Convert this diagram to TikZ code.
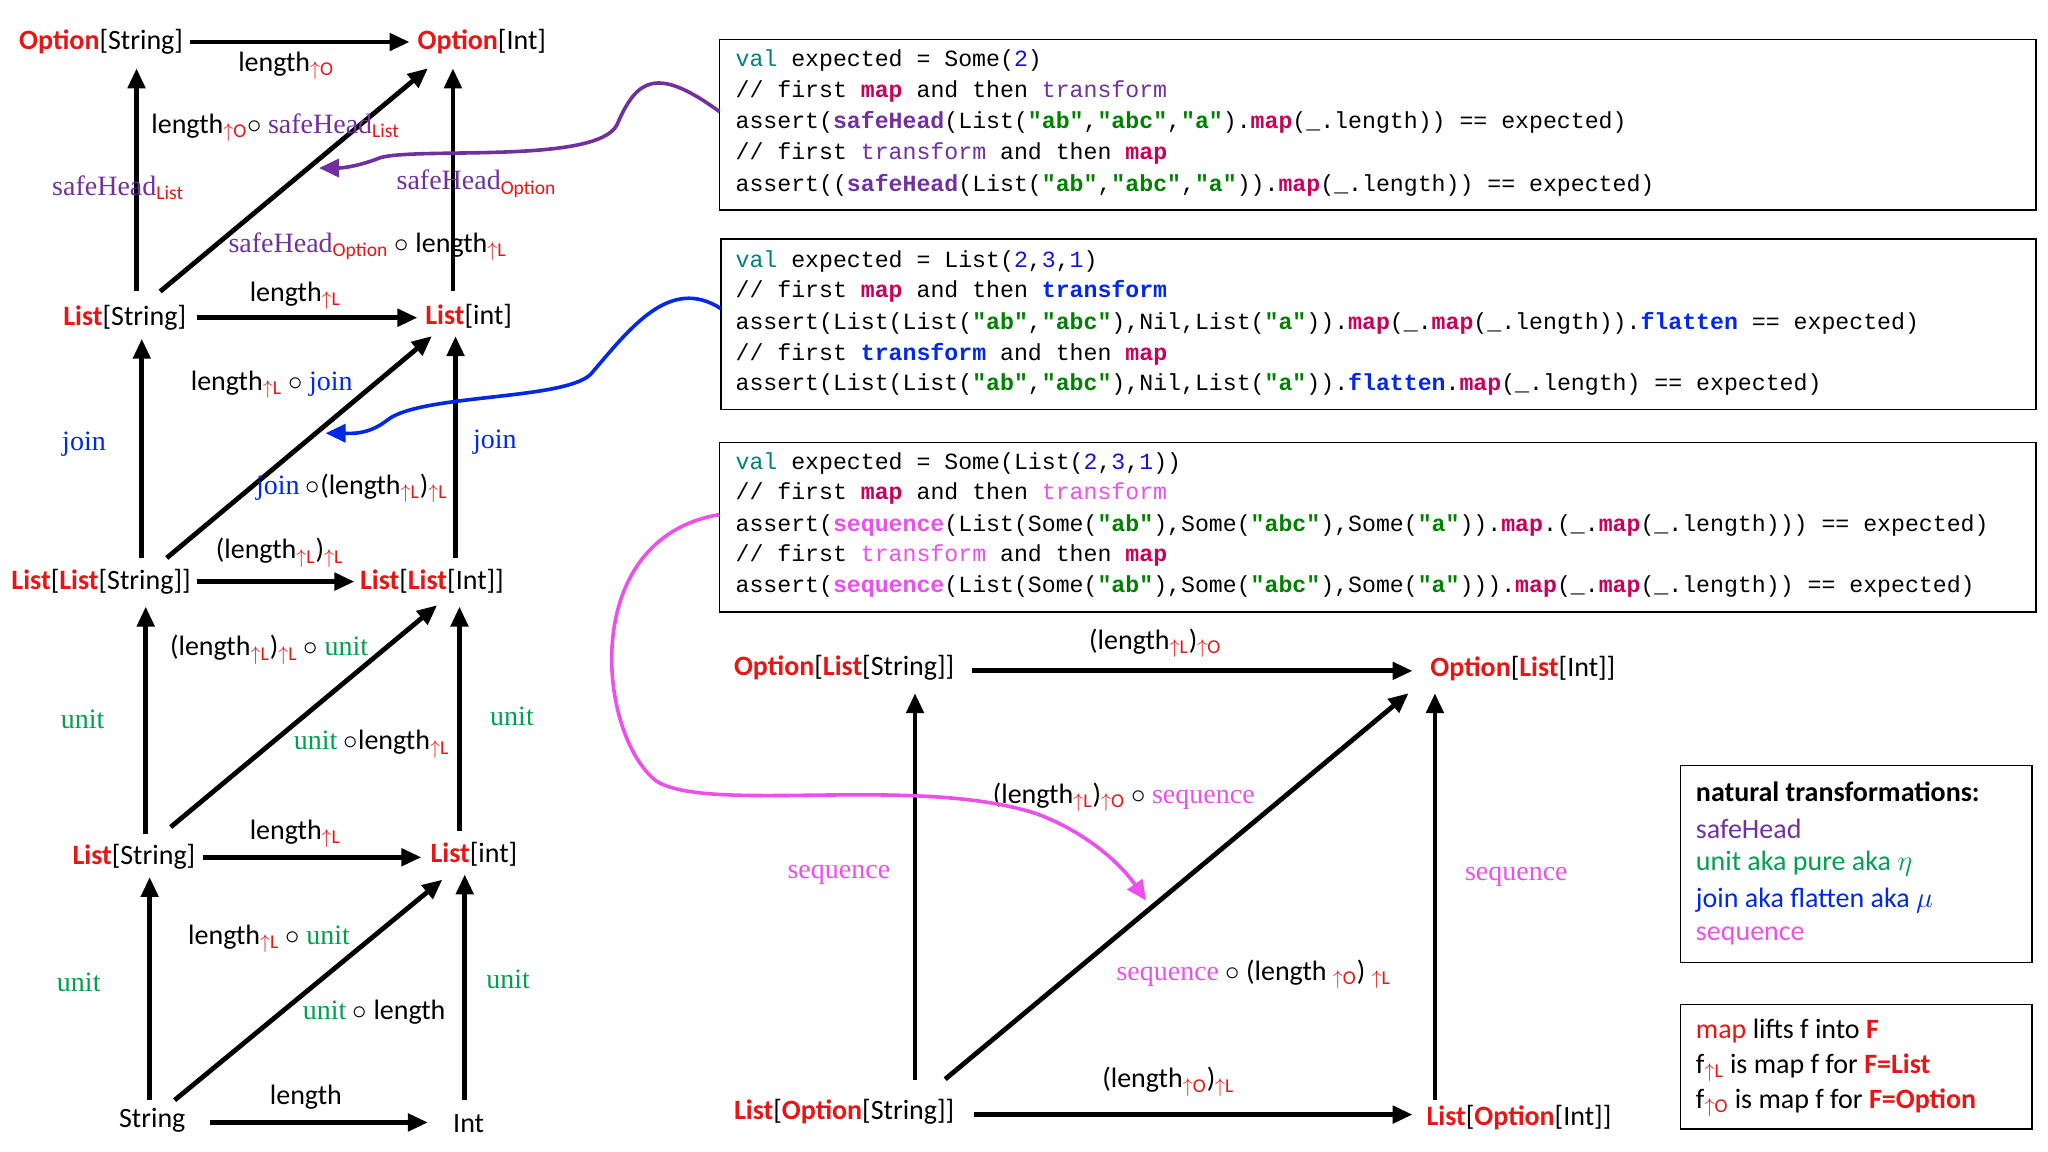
\documentclass[tikz,border=0pt]{standalone}
\usepackage{fontspec}
\setmainfont{Carlito}
\newfontfamily\sr{Liberation Serif}
\newfontfamily\cf{Liberation Mono}
\usetikzlibrary{arrows.meta}
\definecolor{rd}{RGB}{235,20,20}
\definecolor{pu}{RGB}{112,48,160}
\definecolor{bl}{RGB}{0,40,230}
\definecolor{gr}{RGB}{0,160,80}
\definecolor{mg}{RGB}{235,80,235}
\definecolor{kt}{RGB}{0,128,128}
\definecolor{km}{RGB}{200,0,90}
\definecolor{ks}{RGB}{0,128,0}
\definecolor{kn}{RGB}{20,20,220}
\newcommand{\up}[1]{\textsubscript{\color{rd}$\uparrow$#1}}
\newcommand{\sbt}[1]{\textsubscript{\color{rd}#1}}
\newcommand{\R}[1]{\textbf{\color{rd}#1}}
\newcommand{\SH}{{\sr\color{pu}safeHead}}
\newcommand{\JN}{{\sr\color{bl}join}}
\newcommand{\UN}{{\sr\color{gr}unit}}
\newcommand{\SQ}{{\sr\color{mg}sequence}}
\newcommand{\kv}{{\color{kt}val}}
\newcommand{\km}{\textbf{\color{km}map}}
\newcommand{\kt}{{\color{pu}transform}}
\newcommand{\ksh}{\textbf{\color{pu}safeHead}}
\newcommand{\kfl}{\textbf{\color{bl}flatten}}
\newcommand{\ksq}{\textbf{\color{mg}sequence}}
\newcommand{\ktm}{{\color{mg}transform}}
\newcommand{\ks}[1]{\textbf{\color{ks}"#1"}}
\newcommand{\kn}[1]{{\color{kn}#1}}
\begin{document}
\begin{tikzpicture}[x=0.6564pt,y=-0.6564pt,
  lab/.style={font=\fontsize{14}{16}\selectfont,inner sep=1pt},
  code/.style={font=\cf\fontsize{11.6}{14}\selectfont,anchor=west,inner sep=0pt},
  ar/.style={line width=2.4pt,-{Triangle[length=10pt,width=8.5pt]}},
  box/.style={draw,line width=0.8pt},
  crv/.style={line width=1.8pt,-{Triangle[length=10pt,width=9pt]}}]
\useasboundingbox (0,0) rectangle (1560,877.5);
% left nodes
\node[lab] (OS) at (77,32) {\R{Option}[String]};
\node[lab] (OI) at (367,32) {\R{Option}[Int]};
\node[lab] (LS) at (95,242) {\R{List}[String]};
\node[lab] (LI) at (357,241) {\R{List}[int]};
\node[lab] (LLS) at (77,443) {\R{List}[\R{List}[String]]};
\node[lab] (LLI) at (329,443) {\R{List}[\R{List}[Int]]};
\node[lab] (LS2) at (102,653) {\R{List}[String]};
\node[lab] (LI2) at (361,651) {\R{List}[int]};
\node[lab] (S) at (116,853) {String};
\node[lab] (I) at (357,856) {Int};
% arrow ends
\foreach \n/\x/\y in {a1/145/32,a2/312/32,b1/104/222,b2/104/52,c1/122/222,c2/326/52,d1/345/222,d2/345/52,
 e1/150/242,e2/318/242,f1/108/425,f2/108/258,g1/127/425,g2/329/256,h1/347/425,h2/347/256,
 i1/150/443,i2/270/443,j1/111/635,j2/111/462,k1/130/630,k2/333/461,l1/350/633,l2/350/462,
 m1/155/653,m2/321/653,n1/114/838,n2/114/668,o1/133/838,o2/337/670,p1/354/838,p2/354/666,q1/160/855,q2/326/855}
 {\coordinate (\n) at (\x,\y);}
\foreach \s/\t in {a1/a2,b1/b2,c1/c2,d1/d2,e1/e2,f1/f2,g1/g2,h1/h2,i1/i2,j1/j2,k1/k2,l1/l2,m1/m2,n1/n2,o1/o2,p1/p2,q1/q2}
 {\draw[ar] (\s) -- (\t);}
% left labels
\node[lab] (t1) at (218,50) {length\up{O}};
\node[lab] (t2) at (210,97) {length\up{O}$\circ$ \SH\sbt{List}};
\node[lab] (t3) at (90,143) {\SH\sbt{List}};
\node[lab] (t4) at (363,140) {\SH\sbt{Option}};
\node[lab] (t5) at (280,188) {\SH\sbt{Option} $\circ$ length\up{L}};
\node[lab] (t6) at (225,225) {length\up{L}};
\node[lab] (t7) at (64,338) {\JN};
\node[lab] (t8) at (377,337) {\JN};
\node[lab] (t9) at (207,293) {length\up{L} $\circ$ \JN};
\node[lab] (t10) at (268,372) {\JN{} $\circ$(length\up{L})\up{L}};
\node[lab] (t11) at (213,421) {(length\up{L})\up{L}};
\node[lab] (t12) at (63,548) {\UN};
\node[lab] (t13) at (390,546) {\UN};
\node[lab] (t14) at (205,495) {(length\up{L})\up{L} $\circ$ \UN};
\node[lab] (t15) at (283,567) {\UN{} $\circ$length\up{L}};
\node[lab] (t16) at (225,635) {length\up{L}};
\node[lab] (t17) at (60,748) {\UN};
\node[lab] (t18) at (387,746) {\UN};
\node[lab] (t19) at (205,715) {length\up{L} $\circ$ \UN};
\node[lab] (t20) at (285,771) {\UN{} $\circ$ length};
\node[lab] (t21) at (233,836) {length};
% right diagram
\node[lab] (OLS) at (643,509) {\R{Option}[\R{List}[String]]};
\node[lab] (OLI) at (1160,509) {\R{Option}[\R{List}[Int]]};
\node[lab] (LOS) at (643,847) {\R{List}[\R{Option}[String]]};
\node[lab] (LOI) at (1157,851) {\R{List}[\R{Option}[Int]]};
\foreach \n/\x/\y in {r1/740/511,r2/1076/511,s1/697/823,s2/697/528,u1/720/822,u2/1073/528,v1/1093/838,v2/1093/528,w1/742/849,w2/1076/849}
 {\coordinate (\n) at (\x,\y);}
\foreach \s/\t in {r1/r2,s1/s2,u1/u2,v1/v2,w1/w2} {\draw[ar] (\s) -- (\t);}
\node[lab] (y1) at (880,490) {(length\up{L})\up{O}};
\node[lab] (y2) at (890,824) {(length\up{O})\up{L}};
\node[lab] (y3) at (639,666) {\SQ};
\node[lab] (y4) at (1155,668) {\SQ};
\node[lab] (y5) at (856,607) {(length\up{L})\up{O} $\circ$ \SQ};
\node[lab] (y6) at (955,742) {\SQ{} $\circ$ (length \up{O}) \up{L}};
% code boxes
\draw[box] (548,30) rectangle (1551,160);
\draw[box] (549,182) rectangle (1551,312);
\draw[box] (548,337) rectangle (1551,466);
\node[code] (c11) at (560,46) {\kv{} expected = Some(\kn{2})};
\node[code] (c12) at (560,70) {// first \km{} and then \kt};
\node[code] (c13) at (560,93) {assert(\ksh(List(\ks{ab},\ks{abc},\ks{a}).\km(\_.length)) == expected)};
\node[code] (c14) at (560,117) {// first \kt{} and then \km};
\node[code] (c15) at (560,141) {assert((\ksh(List(\ks{ab},\ks{abc},\ks{a})).\km(\_.length)) == expected)};
\node[code] (c21) at (560,199) {\kv{} expected = List(\kn{2},\kn{3},\kn{1})};
\node[code] (c22) at (560,222) {// first \km{} and then \textbf{\color{bl}transform}};
\node[code] (c23) at (560,246) {assert(List(List(\ks{ab},\ks{abc}),Nil,List(\ks{a})).\km(\_.\km(\_.length)).\kfl{} == expected)};
\node[code] (c24) at (560,270) {// first \textbf{\color{bl}transform} and then \km};
\node[code] (c25) at (560,293) {assert(List(List(\ks{ab},\ks{abc}),Nil,List(\ks{a})).\kfl.\km(\_.length) == expected)};
\node[code] (c31) at (560,353) {\kv{} expected = Some(List(\kn{2},\kn{3},\kn{1}))};
\node[code] (c32) at (560,376) {// first \km{} and then \ktm};
\node[code] (c33) at (560,400) {assert(\ksq(List(Some(\ks{ab}),Some(\ks{abc}),Some(\ks{a})).\km.(\_.\km(\_.length))) == expected)};
\node[code] (c34) at (560,423) {// first \ktm{} and then \km};
\node[code] (c35) at (560,447) {assert(\ksq(List(Some(\ks{ab}),Some(\ks{abc}),Some(\ks{a}))).\km(\_.\km(\_.length)) == expected)};
% legends
\draw[box] (1280,583) rectangle (1548,733);
\draw[box] (1280,765) rectangle (1548,860);
\begin{scope}[every node/.style={lab,anchor=west}]
\node (g1) at (1290,603) {\textbf{natural transformations:}};
\node (g2) at (1290,631) {\color{pu}safeHead};
\node (g3) at (1290,658) {\color{gr}unit aka pure aka $\eta$};
\node (g4) at (1290,686) {\color{bl}join aka flatten aka $\mu$};
\node (g5) at (1290,713) {\color{mg}sequence};
\node (h1) at (1290,785) {{\color{rd}map} lifts f into \R{F}};
\node (h2) at (1290,813) {f\up{L} is map f for \R{F=List}};
\node (h3) at (1290,840) {f\up{O} is map f for \R{F=Option}};
\end{scope}
% curves
\coordinate (pA) at (548,85); \coordinate (pB) at (243,128);
\draw[crv,pu] (pA) .. controls (500,50) and (485,60) .. (470,95) .. controls (455,125) and (320,112) .. (290,120) .. controls (275,126) and (262,128) .. (pB);
\coordinate (bA) at (549,235); \coordinate (bB) at (248,330);
\draw[crv,bl] (bA) .. controls (510,210) and (480,250) .. (450,285) .. controls (430,305) and (320,300) .. (295,320) .. controls (280,332) and (265,330) .. (bB);
\coordinate (mA) at (548,392); \coordinate (mB) at (873,686);
\draw[crv,mg] (mA) .. controls (440,410) and (455,560) .. (500,595) .. controls (540,620) and (700,590) .. (790,620) .. controls (830,635) and (855,660) .. (mB);
\end{tikzpicture}
\end{document}
